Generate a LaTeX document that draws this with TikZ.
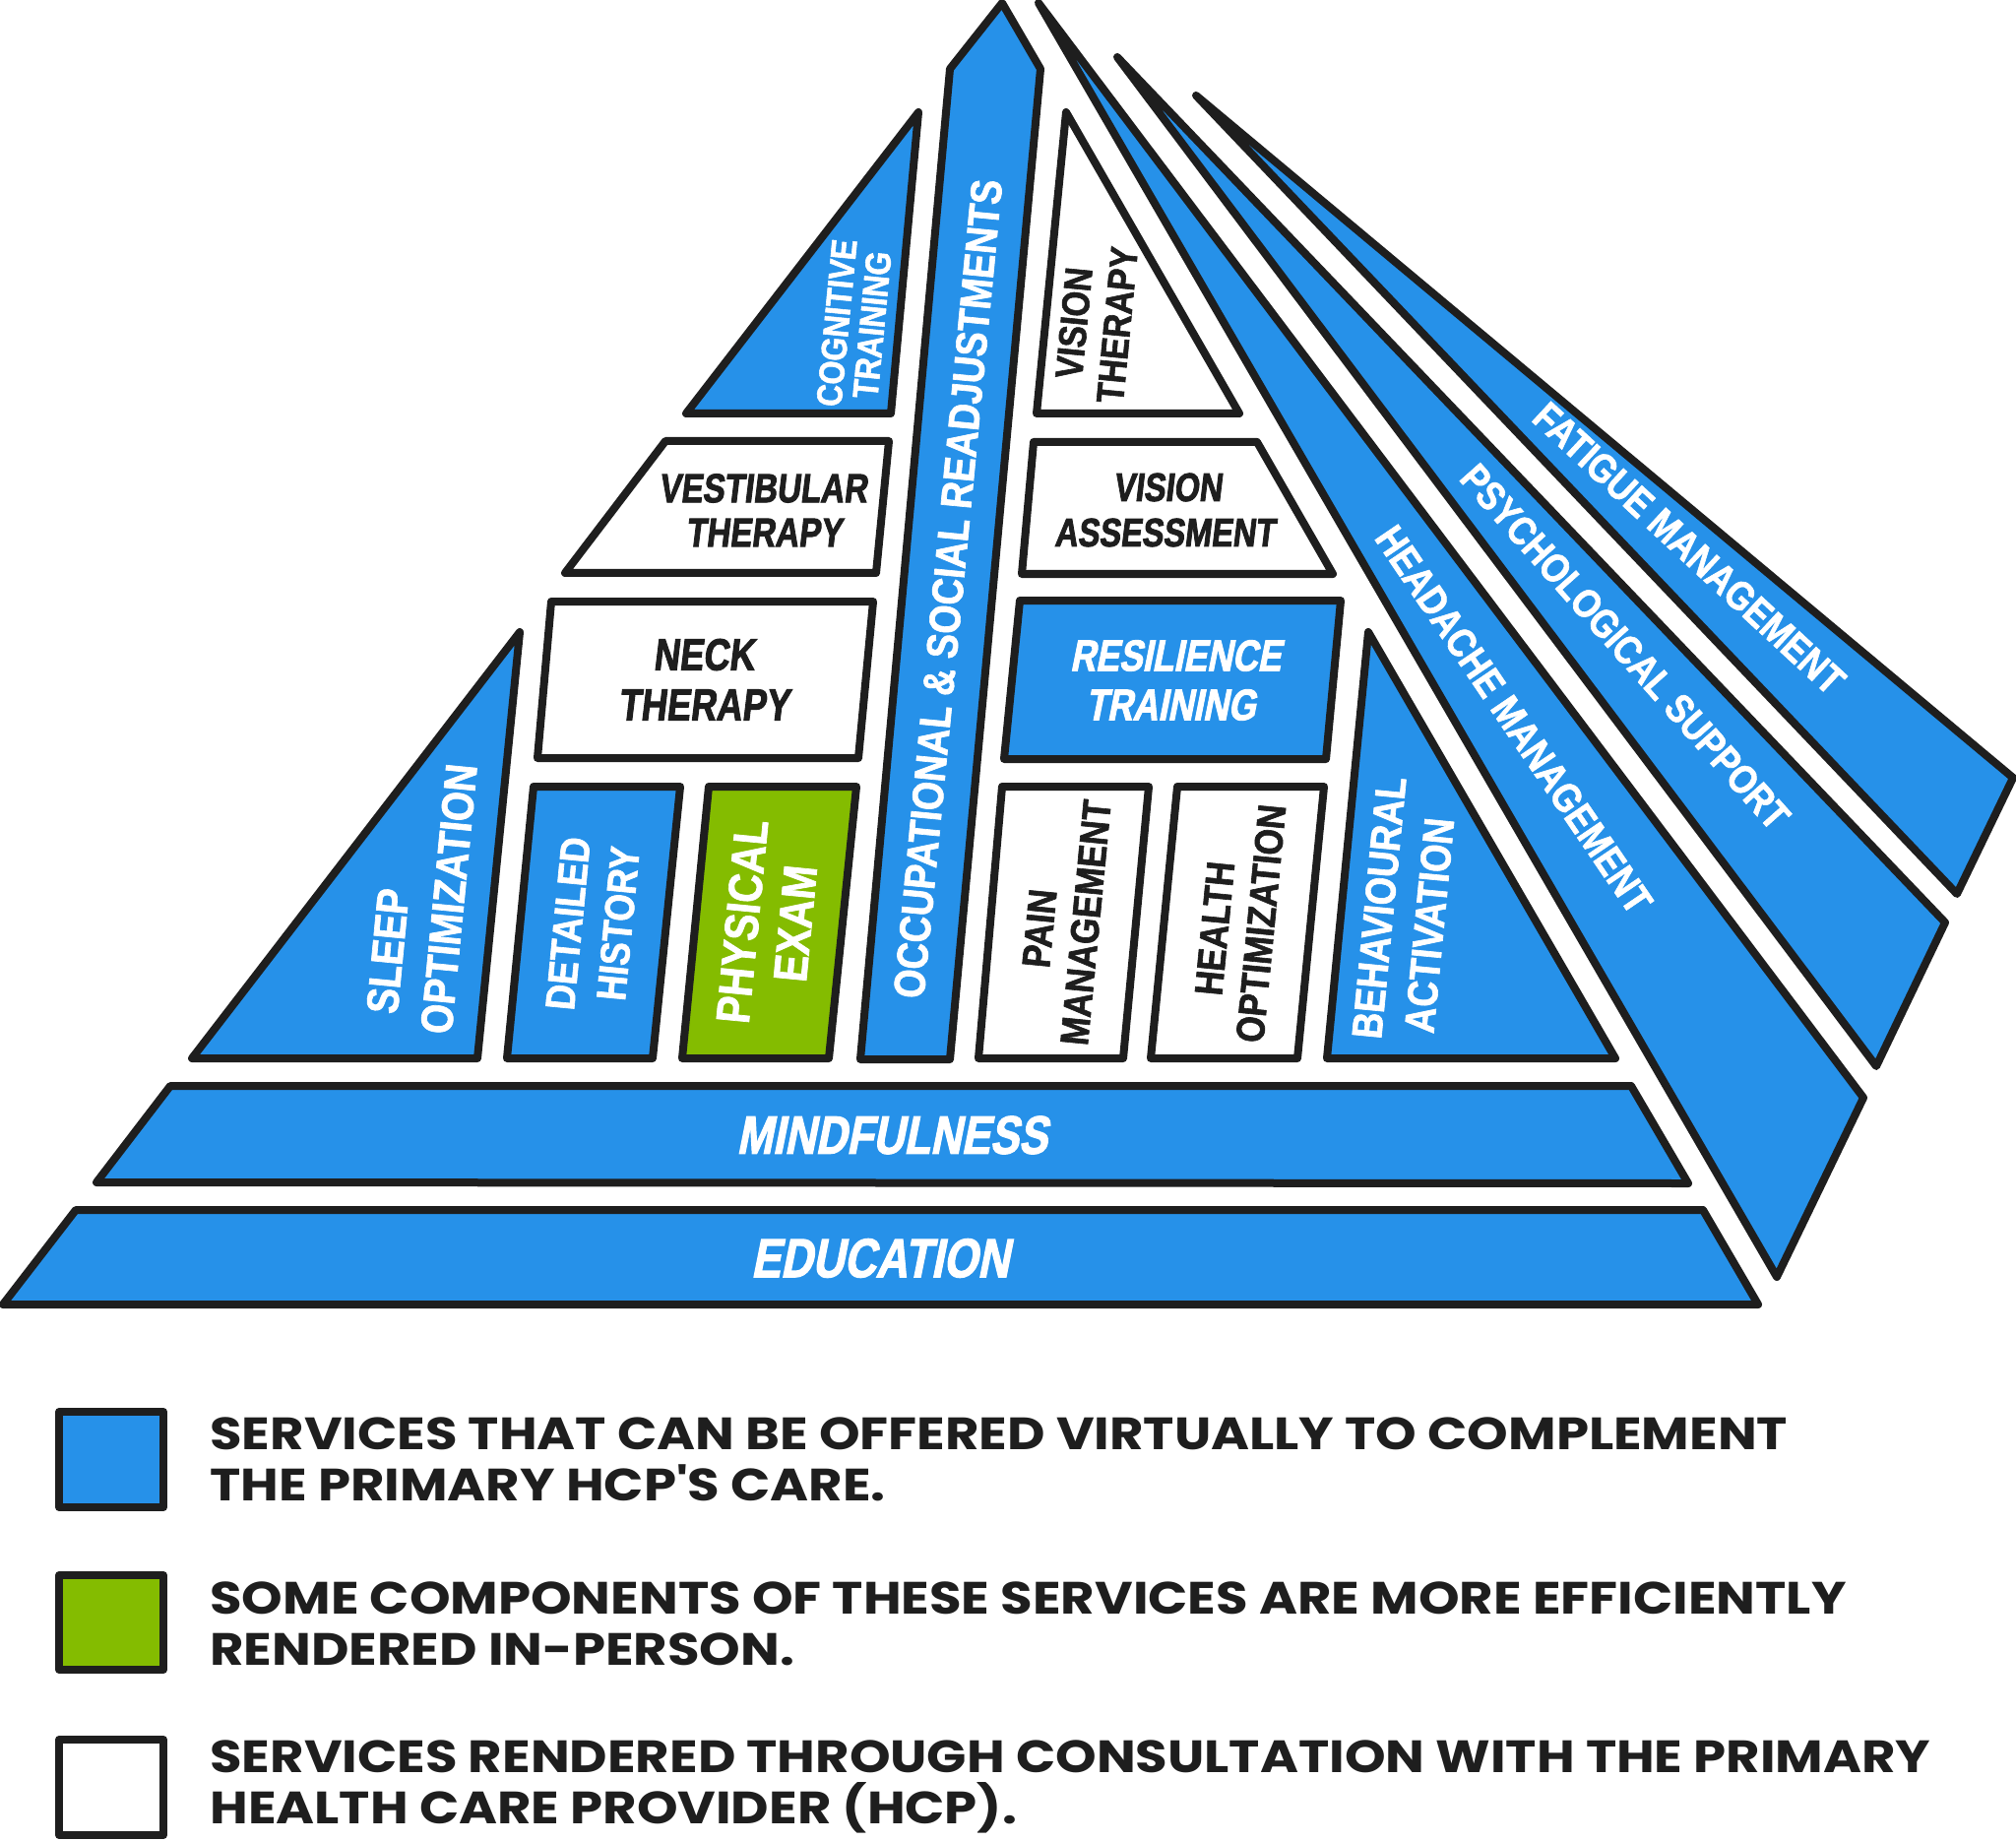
\documentclass[tikz,border=0pt]{standalone}
\usepackage{fontspec}
\newfontfamily\condsl{Liberation Sans Bold}[FakeStretch=0.8,FakeSlant=0.12,FakeBold=2]
\newfontfamily\condital{Liberation Sans Bold}[FakeStretch=0.8,FakeSlant=0.2,FakeBold=2]
\newfontfamily\rotfont{Liberation Sans Bold}[FakeStretch=0.85,FakeBold=1.5]
\newfontfamily\legfont{Poppins}[FakeStretch=1.15]
\newcommand\fsz[1]{\fontsize{#1pt}{#1pt}\selectfont}
\definecolor{pblue}{HTML}{2691E9}
\definecolor{pgreen}{HTML}{84BC00}
\definecolor{pline}{HTML}{1E1E1E}
\tikzset{
  shp/.style={draw=pline, line width=4pt, line join=round},
  bluesh/.style={shp, fill=pblue},
  whitesh/.style={shp, fill=white},
  greensh/.style={shp, fill=pgreen},
  hlab/.style={inner sep=0pt, text=pline},
  rlab/.style={inner sep=0pt, text=white, rotate=84.5},
  blab/.style={inner sep=0pt, text=white},
  leg/.style={inner sep=0pt, anchor=base west, text=pline, font={\legfont\bfseries\fsz{23}}},
}
\begin{document}
\begin{tikzpicture}[x=0.5pt,y=-0.5pt]
\useasboundingbox (0,0) rectangle (2048,1871);
% base layers
\draw[bluesh] (3,1325) -- (77,1229) -- (1730,1229) -- (1786,1325) -- cycle;
\draw[bluesh] (98,1201) -- (173,1103) -- (1657,1103) -- (1715,1202) -- cycle;
% left side
\draw[bluesh] (195,1075) -- (528,642) -- (485,1075) -- cycle;
\draw[bluesh] (515,1075) -- (542,799) -- (691,799) -- (663,1075) -- cycle;
\draw[greensh] (693,1075) -- (720,799) -- (870,799) -- (842,1075) -- cycle;
\draw[whitesh] (546,770) -- (560,611) -- (887,611) -- (872,770) -- cycle;
\draw[whitesh] (574,582) -- (676,448) -- (903,448) -- (890,582) -- cycle;
\draw[bluesh] (697,420) -- (933,114) -- (905,420) -- cycle;
% central column
\draw[bluesh] (874,1076) -- (965,70) -- (1018,3) -- (1057,70) -- (965,1076) -- cycle;
% right side
\draw[whitesh] (1053,420) -- (1083,114) -- (1259,420) -- cycle;
\draw[whitesh] (1038,583) -- (1050,449) -- (1277,449) -- (1354,583) -- cycle;
\draw[bluesh] (1020,771) -- (1036,610) -- (1362,610) -- (1347,771) -- cycle;
\draw[whitesh] (994,1075) -- (1018,799) -- (1167,799) -- (1141,1075) -- cycle;
\draw[whitesh] (1169,1075) -- (1196,799) -- (1345,799) -- (1318,1075) -- cycle;
\draw[bluesh] (1348,1075) -- (1390,642) -- (1641,1075) -- cycle;
% bands
\draw[bluesh] (1055,3) -- (1893,1115) -- (1805,1297) -- cycle;
\draw[bluesh] (1135,58) -- (1976,937) -- (1906,1083) -- cycle;
\draw[bluesh] (1215,97) -- (2045,790) -- (1988,908) -- cycle;

% horizontal labels
\node[blab, font={\condital\fsz{27.9}}] (edu) at (894,1278) {EDUCATION};
\node[blab, font={\condital\fsz{27.3}}] (mind) at (906,1153) {MINDFULNESS};
\node[hlab, font={\condsl\fsz{22.7}}] (neckA) at (715,665) {NECK};
\node[hlab, font={\condsl\fsz{22.7}}] (neckB) at (715,716) {THERAPY};
\node[hlab, font={\condsl\fsz{20.7}}] (vestA) at (775,496) {VESTIBULAR};
\node[hlab, font={\condsl\fsz{20.7}}] (vestB) at (776,541) {THERAPY};
\node[hlab, font={\condsl\fsz{20.3}}] (vasA) at (1186,495) {VISION};
\node[hlab, font={\condsl\fsz{20.3}}] (vasB) at (1183,541) {ASSESSMENT};
\node[blab, font={\condital\fsz{22.3}}] (resA) at (1194,666) {RESILIENCE};
\node[blab, font={\condital\fsz{22.3}}] (resB) at (1189,716) {TRAINING};

% rotated labels
\node[rlab, font={\rotfont\fsz{22.8}}] (sleepA) at (394,966) {SLEEP};
\node[rlab, font={\rotfont\fsz{22.8}}] (sleepB) at (456,913) {OPTIMIZATION};
\node[rlab, font={\rotfont\fsz{21}}] (detA) at (577,938) {DETAILED};
\node[rlab, font={\rotfont\fsz{21}}] (detB) at (628,938) {HISTORY};
\node[rlab, font={\rotfont\fsz{24.1}}] (physA) at (754,936) {PHYSICAL};
\node[rlab, font={\rotfont\fsz{24.1}}] (physB) at (808,938) {EXAM};
\node[rlab, font={\rotfont\fsz{22.2}}] (occ) at (963,598) {OCCUPATIONAL \& SOCIAL READJUSTMENTS};
\node[rlab, font={\rotfont\fsz{18.2}}] (cogA) at (850,328) {COGNITIVE};
\node[rlab, font={\rotfont\fsz{18.2}}] (cogB) at (886,330) {TRAINING};
\node[rlab, text=pline, font={\rotfont\fsz{19.6}}] (vthA) at (1091,328) {VISION};
\node[rlab, text=pline, font={\rotfont\fsz{19.6}}] (vthB) at (1135,330) {THERAPY};
\node[rlab, text=pline, font={\rotfont\fsz{20.2}}] (painA) at (1056,943) {PAIN};
\node[rlab, text=pline, font={\rotfont\fsz{20.2}}] (painB) at (1103,937) {MANAGEMENT};
\node[rlab, text=pline, font={\rotfont\fsz{20.1}}] (hoA) at (1234,943) {HEALTH};
\node[rlab, text=pline, font={\rotfont\fsz{20.1}}] (hoB) at (1281,938) {OPTIMIZATION};
\node[rlab, font={\rotfont\fsz{21.6}}] (baA) at (1401,922) {BEHAVIOURAL};
\node[rlab, font={\rotfont\fsz{21.6}}] (baB) at (1452,940) {ACTIVATION};
\node[blab, rotate=-55.8, font={\rotfont\fsz{20.7}}] (head) at (1538,731) {HEADACHE MANAGEMENT};
\node[blab, rotate=-48.4, font={\rotfont\fsz{20.4}}] (psych) at (1651,657) {PSYCHOLOGICAL SUPPORT};
\node[blab, rotate=-42.8, font={\rotfont\fsz{20.6}}] (fat) at (1716,557) {FATIGUE MANAGEMENT};

% legend
\draw[bluesh] (60,1434) rectangle (166,1531);
\draw[greensh] (60,1600) rectangle (166,1696);
\draw[whitesh] (60,1767) rectangle (166,1864);
\node[leg] (l1a) at (213,1472) {SERVICES THAT CAN BE OFFERED VIRTUALLY TO COMPLEMENT};
\node[leg] (l1b) at (213,1524) {THE PRIMARY HCP'S CARE.};
\node[leg] (l2a) at (213,1639) {SOME COMPONENTS OF THESE SERVICES ARE MORE EFFICIENTLY};
\node[leg] (l2b) at (213,1691) {RENDERED IN-PERSON.};
\node[leg] (l3a) at (213,1800) {SERVICES RENDERED THROUGH CONSULTATION WITH THE PRIMARY};
\node[leg] (l3b) at (213,1852) {HEALTH CARE PROVIDER (HCP).};
\end{tikzpicture}
\end{document}
